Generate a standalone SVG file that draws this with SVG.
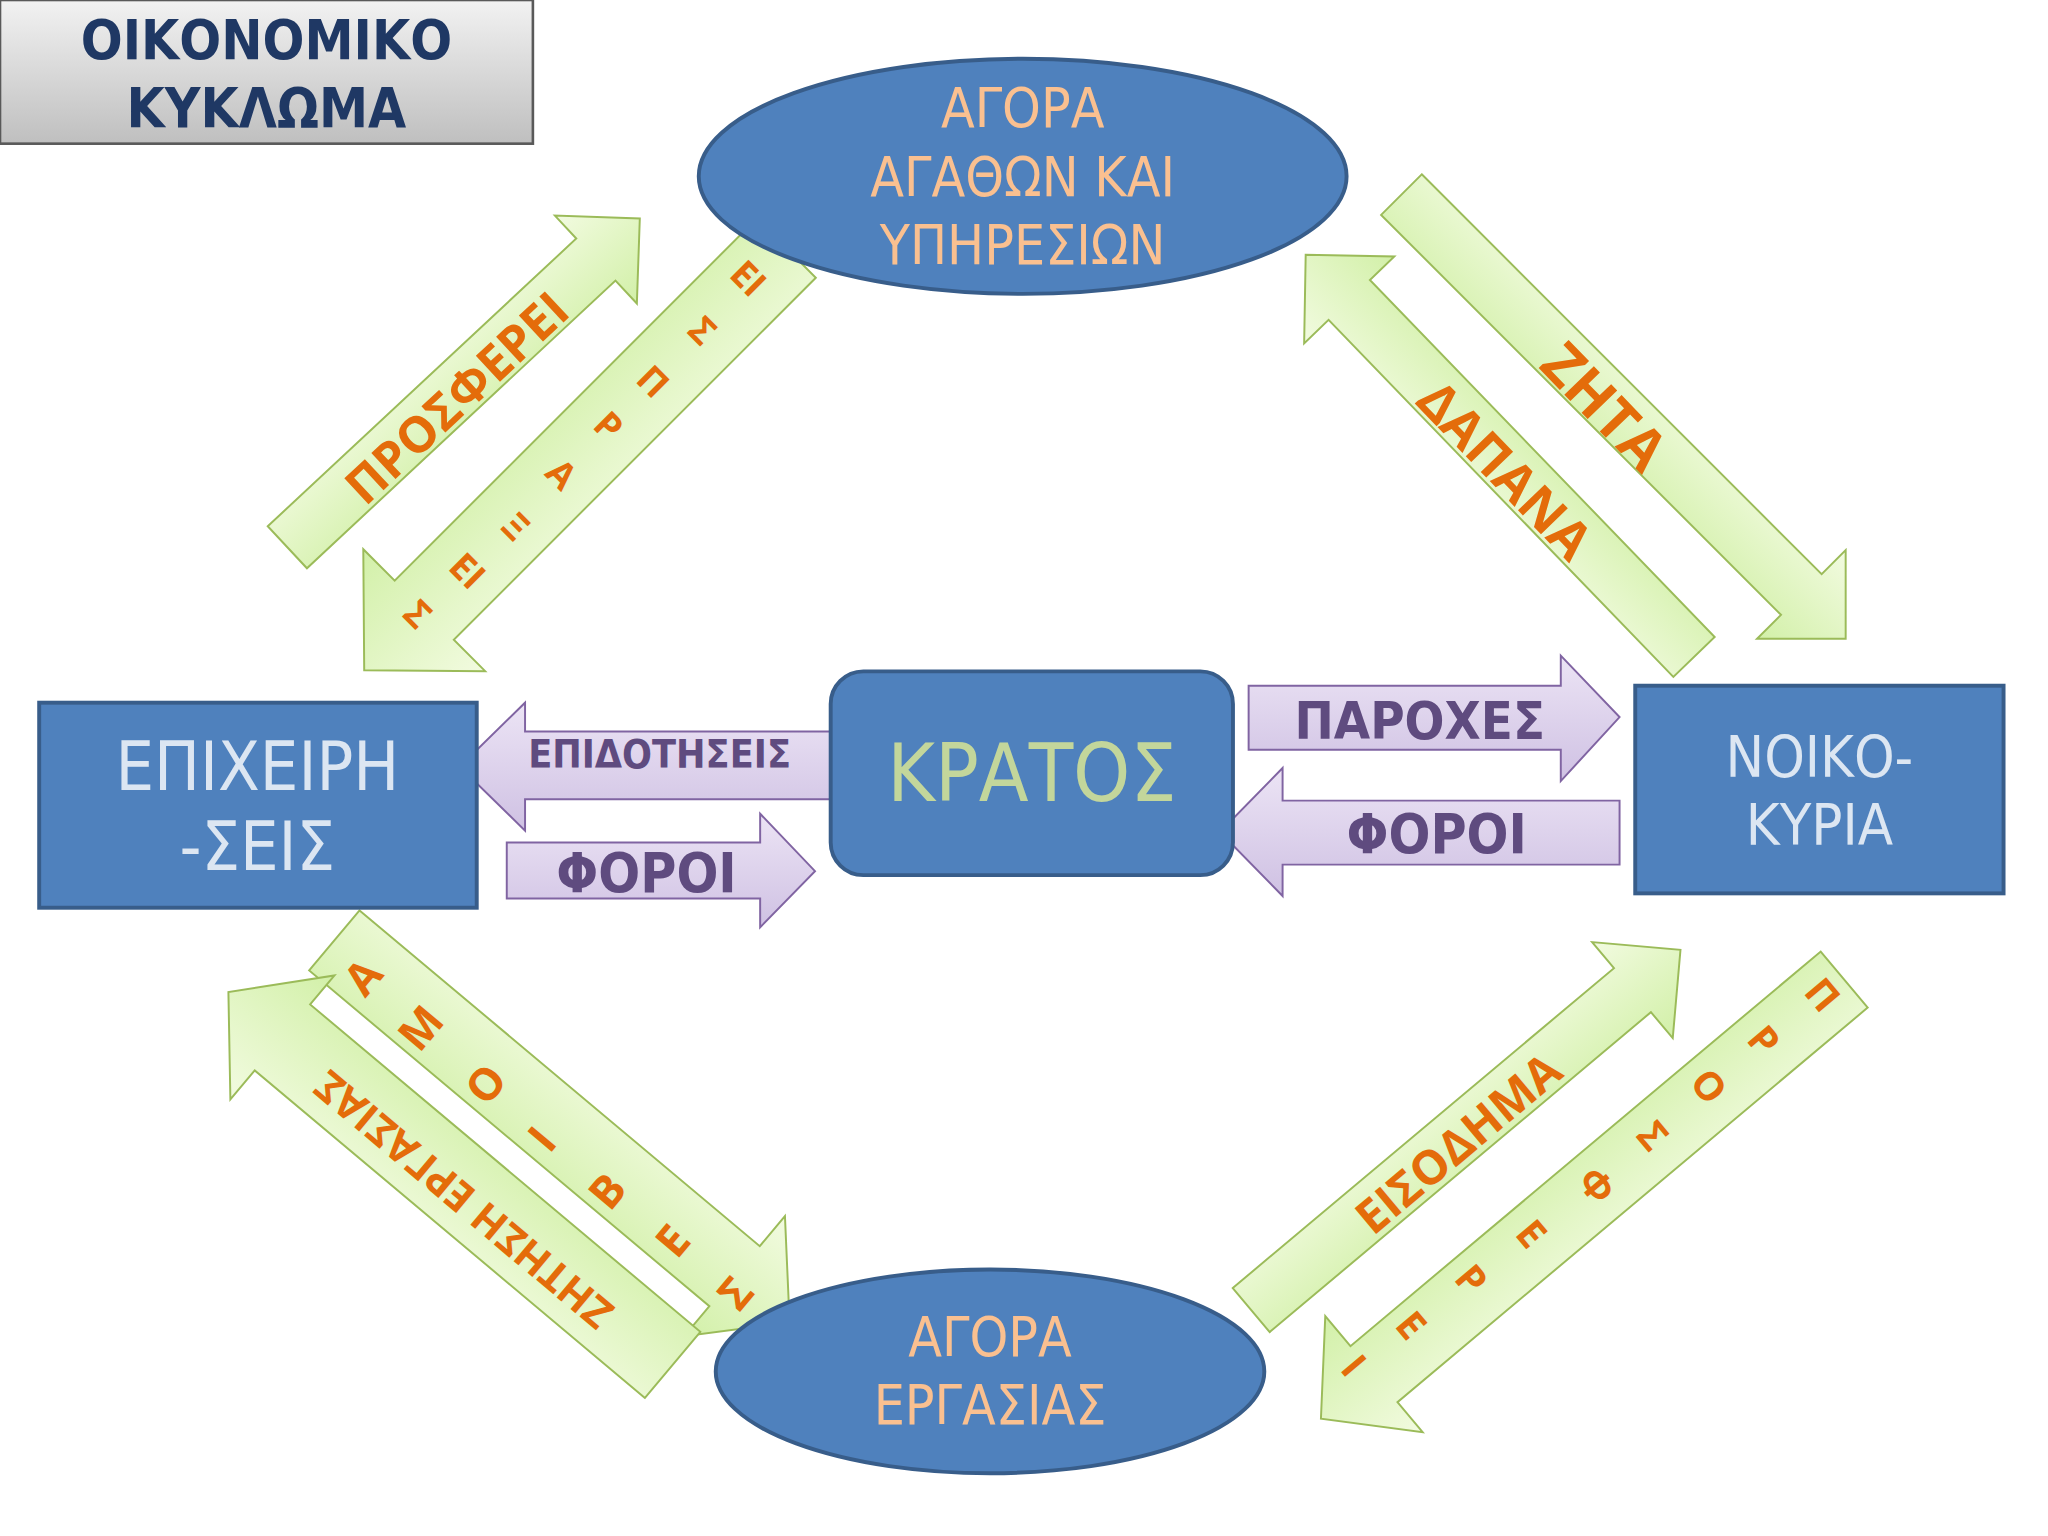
<svg xmlns="http://www.w3.org/2000/svg" width="2048" height="1536" viewBox="0 0 2048 1536">
<defs>
<linearGradient id="gray" x1="0" y1="0" x2="0" y2="1"><stop offset="0" stop-color="#f2f2f2"/><stop offset="1" stop-color="#bfbfbf"/></linearGradient>
<linearGradient id="grn" x1="0" y1="0" x2="0" y2="1"><stop offset="0" stop-color="#f2fbe0"/><stop offset="1" stop-color="#d2f0a8"/></linearGradient>
<linearGradient id="pur" x1="0" y1="0" x2="0" y2="1"><stop offset="0" stop-color="#ece4f5"/><stop offset="1" stop-color="#cfc1e3"/></linearGradient>
<style>
.node{fill:#4f81bd;stroke:#385d8a;stroke-width:3}
.ga{fill:url(#grn);stroke:#9bbb59;stroke-width:1.5}
.pa{fill:url(#pur);stroke:#8064a2;stroke-width:1.5}
.nt{font-family:"DejaVu Sans Condensed","DejaVu Sans",sans-serif;text-anchor:middle}
.ot{font-family:"Open Sans","DejaVu Sans",sans-serif;font-weight:bold;fill:#e46c0a;text-anchor:middle}
.pt{font-family:"DejaVu Sans Condensed","DejaVu Sans",sans-serif;font-weight:bold;fill:#5f4b7f;text-anchor:middle}
</style>
</defs>
<g transform="scale(1.3061)">
<g id="title">
<rect x="0" y="0" width="408" height="110" fill="url(#gray)" stroke="#595959" stroke-width="2"/>
<text class="nt" x="204" y="45" font-size="42" font-weight="bold" fill="#1f3864">ΟΙΚΟΝΟΜΙΚΟ</text>
<text class="nt" x="204" y="97" font-size="42" font-weight="bold" fill="#1f3864">ΚΥΚΛΩΜΑ</text>
</g>
<g id="connectors">
<!-- green arrows: local shape along +x -->
<g transform="translate(220,419) rotate(-43)"><path class="ga" d="M0,-22 H323 V-46 L369,0 L323,46 V22 H0 Z"/></g>
<g transform="translate(602,190) rotate(135)"><path class="ga" d="M0,-32 H392 V-66 L457,0 L392,66 V32 H0 Z"/></g>
<g transform="translate(1073,149) rotate(45)"><path class="ga" d="M0,-22 H433 V-48 L481,0 L433,48 V22 H0 Z"/></g>
<g transform="translate(1297,503) rotate(-134)"><path class="ga" d="M0,-22 H380 V-48 L428,0 L380,48 V22 H0 Z"/></g>
<g transform="translate(256,720) rotate(40)"><path class="ga" d="M0,-30 H400 V-60 L455,0 L400,60 V30 H0 Z"/></g>
<g transform="translate(515,1045) rotate(-140)"><path class="ga" d="M0,-33 H390 V-62 L444,0 L390,62 V33 H0 Z"/></g>
<g transform="translate(958,1003) rotate(-40)"><path class="ga" d="M0,-22 H381 V-48 L429,0 L381,48 V22 H0 Z"/></g>
<g transform="translate(1412,750) rotate(140)"><path class="ga" d="M0,-28 H470 V-58 L523,0 L470,58 V28 H0 Z"/></g>
<text class="ot" font-size="38" transform="translate(350,305) rotate(-43)" dy="13">ΠΡΟΣΦΕΡΕΙ</text>
<text class="ot" font-size="44" transform="translate(1228,312) rotate(46)" dy="15">ΖΗΤΑ</text>
<text class="ot" font-size="40" transform="translate(1152,360) rotate(46)" dy="14">ΔΑΠΑΝΑ</text>
<text class="ot" font-size="36" transform="translate(1117,876) rotate(-40)" dy="12">ΕΙΣΟΔΗΜΑ</text>
<text class="ot" font-size="32" transform="translate(355,918) rotate(-140)" dy="11">ΖΗΤΗΣΗ ΕΡΓΑΣΙΑΣ</text>
<g class="ot" font-size="28">
<text transform="translate(573,213) rotate(45)" dy="10">ΕΙ</text>
<text transform="translate(538,253) rotate(45)" dy="10">Σ</text>
<text transform="translate(500,292) rotate(45)" dy="10">Π</text>
<text transform="translate(466,326) rotate(45)" dy="10">Ρ</text>
<text transform="translate(430,363) rotate(45)" dy="10">Α</text>
<text transform="translate(395,403) rotate(45)" dy="10">Ξ</text>
<text transform="translate(358,437) rotate(45)" dy="10">ΕΙ</text>
<text transform="translate(320,470) rotate(45)" dy="10">Σ</text>
</g>
<g class="ot" font-size="34">
<text transform="translate(278,748) rotate(-50)" dy="12">Α</text>
<text transform="translate(322,787) rotate(-50)" dy="12">Μ</text>
<text transform="translate(372,830) rotate(-50)" dy="12">Ο</text>
<text transform="translate(415,872) rotate(-50)" dy="12">Ι</text>
<text transform="translate(465,912) rotate(-50)" dy="12">Β</text>
<text transform="translate(515,950) rotate(-50)" dy="12">Ε</text>
<text transform="translate(563,990) rotate(-50)" dy="12">Σ</text>
</g>
<g class="ot" font-size="30">
<text transform="translate(1395,762) rotate(50)" dy="10">Π</text>
<text transform="translate(1350,797) rotate(50)" dy="10">Ρ</text>
<text transform="translate(1308,832) rotate(50)" dy="10">Ο</text>
<text transform="translate(1265,870) rotate(50)" dy="10">Σ</text>
<text transform="translate(1222,908) rotate(50)" dy="10">Φ</text>
<text transform="translate(1172,945) rotate(50)" dy="10">Ε</text>
<text transform="translate(1126,980) rotate(50)" dy="10">Ρ</text>
<text transform="translate(1080,1015) rotate(50)" dy="10">Ε</text>
<text transform="translate(1036,1046) rotate(50)" dy="10">Ι</text>
</g>
<!-- purple arrows -->
<path class="pa" d="M636,560 H402 V538 L352,587 L402,636 V612 H636 Z"/>
<text class="pt" x="505" y="588" font-size="30">ΕΠΙΔΟΤΗΣΕΙΣ</text>
<path class="pa" d="M388,645 H582 V623 L624,667 L582,710 V688 H388 Z"/>
<text class="pt" x="495" y="683" font-size="42">ΦΟΡΟΙ</text>
<path class="pa" d="M956,525 H1195 V502 L1240,549 L1195,598 V574 H956 Z"/>
<text class="pt" x="1087" y="566" font-size="40">ΠΑΡΟΧΕΣ</text>
<path class="pa" d="M1240,613 H982 V588 L934,637 L982,686 V662 H1240 Z"/>
<text class="pt" x="1100" y="653" font-size="42">ΦΟΡΟΙ</text>
</g>
<g id="agora_agathon">
<ellipse class="node" cx="783" cy="135" rx="248" ry="90"/>
<text class="nt" x="783" y="97" font-size="42" fill="#fac090">ΑΓΟΡΑ</text>
<text class="nt" x="783" y="150" font-size="42" fill="#fac090">ΑΓΑΘΩΝ ΚΑΙ</text>
<text class="nt" x="783" y="202" font-size="42" fill="#fac090">ΥΠΗΡΕΣΙΩΝ</text>
</g>
<g id="agora_ergasias">
<ellipse class="node" cx="758" cy="1050" rx="210" ry="78"/>
<text class="nt" x="758" y="1038" font-size="42" fill="#fac090">ΑΓΟΡΑ</text>
<text class="nt" x="758" y="1090" font-size="42" fill="#fac090">ΕΡΓΑΣΙΑΣ</text>
</g>
<g id="epixeiriseis">
<rect class="node" x="30" y="538" width="335" height="157"/>
<text class="nt" x="197" y="605" font-size="52" fill="#dce6f2">ΕΠΙΧΕΙΡΗ</text>
<text class="nt" x="197" y="666" font-size="52" fill="#dce6f2">-ΣΕΙΣ</text>
</g>
<g id="kratos">
<rect class="node" x="636" y="514" width="308" height="156" rx="25"/>
<text class="nt" x="790" y="613" font-size="62" fill="#c3d69b">ΚΡΑΤΟΣ</text>
</g>
<g id="noikokyria">
<rect class="node" x="1252" y="525" width="282" height="159"/>
<text class="nt" x="1393" y="595" font-size="44" fill="#dce6f2">ΝΟΙΚΟ-</text>
<text class="nt" x="1393" y="647" font-size="44" fill="#dce6f2">ΚΥΡΙΑ</text>
</g>
</g>
</svg>
